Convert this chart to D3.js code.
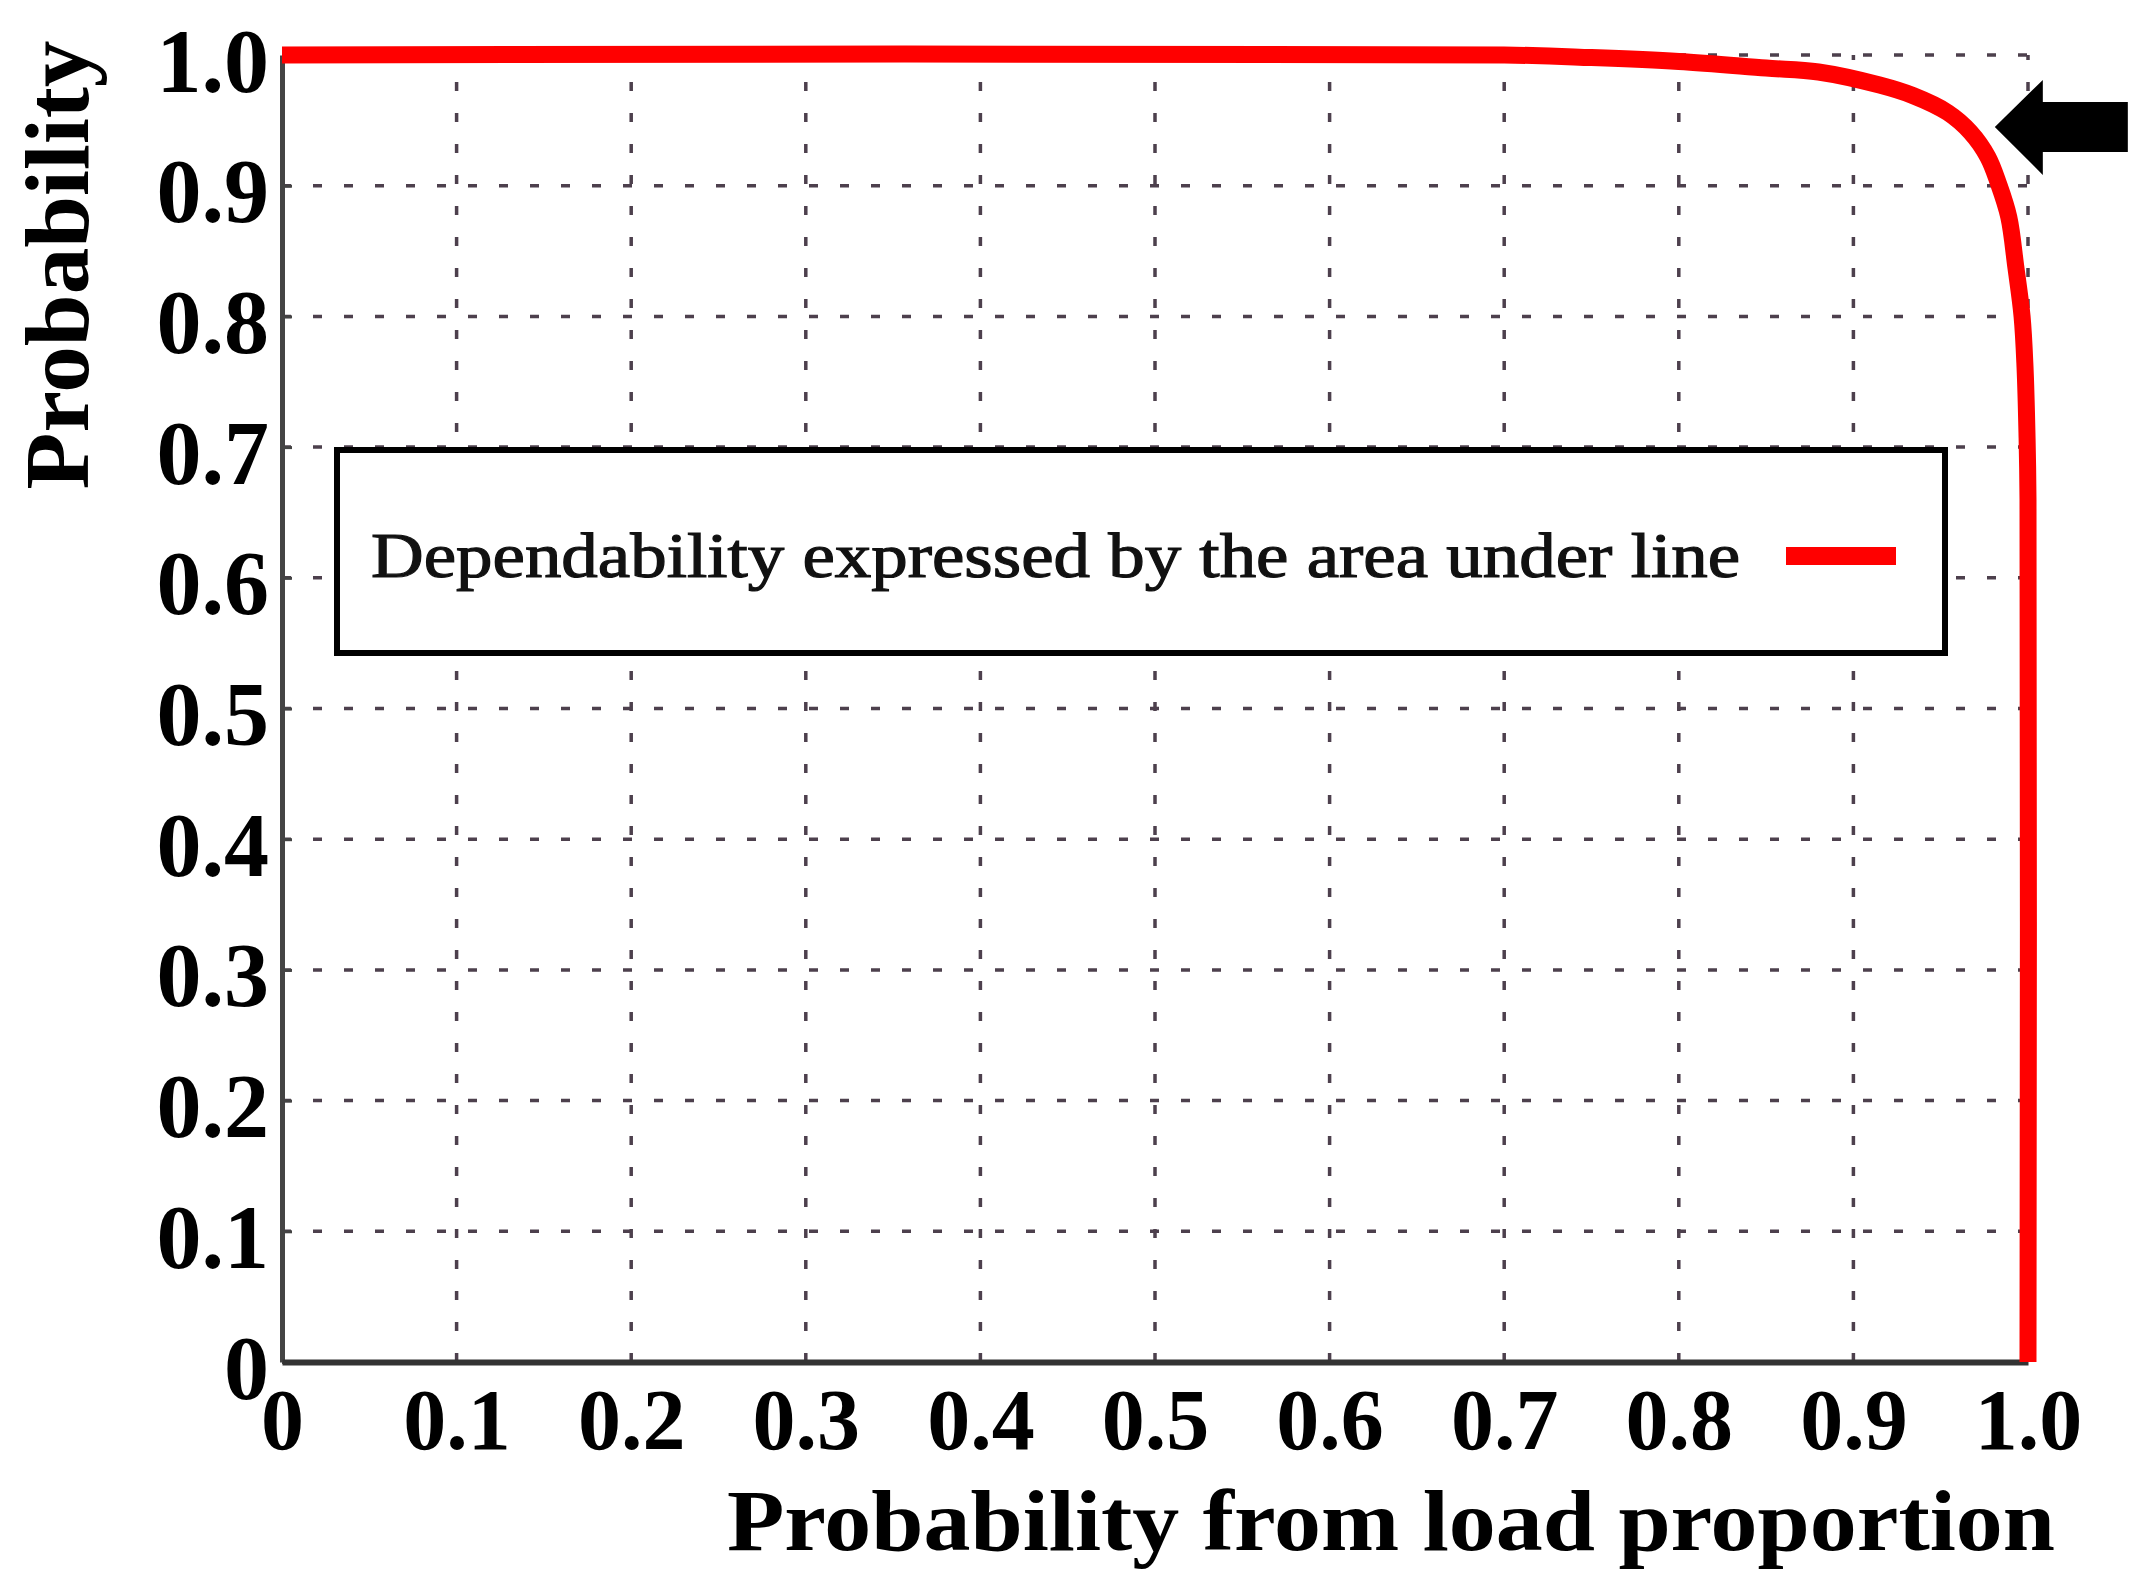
<!DOCTYPE html>
<html><head><meta charset="utf-8">
<script src="https://cdn.jsdelivr.net/npm/d3@7"></script>
<style>html,body{margin:0;padding:0;background:#fff;} svg{display:block}</style>
</head><body>
<svg id="chart" width="2152" height="1584"></svg>
<script>
// ---- data ----
const xValues = [0, 0.70, 0.75, 0.80, 0.85, 0.88, 0.915, 0.934, 0.954, 0.967, 0.977, 0.983, 0.989, 0.993, 0.9966, 0.9983, 0.9994, 1.0, 1.0];
const yValues = [1.0, 1.0, 0.998, 0.995, 0.99, 0.987, 0.977, 0.969, 0.956, 0.941, 0.922, 0.902, 0.876, 0.838, 0.80, 0.761, 0.711, 0.66, 0];
const xTicks = [0, 0.1, 0.2, 0.3, 0.4, 0.5, 0.6, 0.7, 0.8, 0.9, 1.0];
const xTickLabels = ["0", "0.1", "0.2", "0.3", "0.4", "0.5", "0.6", "0.7", "0.8", "0.9", "1.0"];
const yTicks = [0, 0.1, 0.2, 0.3, 0.4, 0.5, 0.6, 0.7, 0.8, 0.9, 1.0];
const yTickLabels = ["0", "0.1", "0.2", "0.3", "0.4", "0.5", "0.6", "0.7", "0.8", "0.9", "1.0"];
const seriesName = "Dependability expressed by the area under line";
const xTitle = "Probability from load proportion";
const yTitle = "Probability";
const arrowTip = [0.981, 0.945];

// ---- layout ----
const svg = d3.select("#chart");
const FONT = "'Liberation Serif','DejaVu Serif',serif";
const x = d3.scaleLinear().domain([0, 1]).range([282, 2028]);
const y = d3.scaleLinear().domain([0, 1]).range([1362, 55]);
const points = xValues.map((v, i) => [v, yValues[i]]);

// grid
const grid = svg.append("g").attr("stroke", "#2e1f2e").attr("stroke-width", 3.5)
  .attr("stroke-dasharray", "9,22").attr("opacity", 0.85);
grid.selectAll("line.v").data(xTicks.filter(d => d > 0)).join("line").attr("class", "v")
  .attr("x1", d => x(d)).attr("x2", d => x(d)).attr("y1", y(0)).attr("y2", y(1));
grid.selectAll("line.h").data(yTicks.filter(d => d > 0)).join("line").attr("class", "h")
  .attr("y1", d => y(d)).attr("y2", d => y(d)).attr("x1", x(0)).attr("x2", x(1) + 5);

// axes
const yAxis = d3.axisLeft(y).tickValues(yTicks).tickFormat((d, i) => yTickLabels[i])
  .tickSizeInner(-10).tickSizeOuter(0).tickPadding(13);
const gy = svg.append("g").attr("transform", `translate(${x(0)},0)`).call(yAxis);
gy.select(".domain").attr("stroke", "#444").attr("stroke-width", 5);
gy.selectAll(".tick line").attr("stroke", "#444").attr("stroke-width", 3);
gy.selectAll(".tick text").attr("font-family", FONT).attr("font-weight", "bold")
  .attr("font-size", 90).attr("fill", "#000").attr("dy", "0.40em");

const xAxis = d3.axisBottom(x).tickValues(xTicks).tickFormat((d, i) => xTickLabels[i])
  .tickSize(0).tickPadding(26);
const gx = svg.append("g").attr("transform", `translate(0,${y(0)})`).call(xAxis);
gx.select(".domain").attr("stroke", "#333").attr("stroke-width", 6);
gx.selectAll(".tick text").attr("font-family", FONT).attr("font-weight", "bold")
  .attr("font-size", 86).attr("fill", "#000");

// axis titles
svg.append("text").attr("x", 2055).attr("y", 1550).attr("text-anchor", "end")
  .attr("font-family", FONT).attr("font-weight", "bold").attr("font-size", 86)
  .attr("textLength", 1328).attr("lengthAdjust", "spacingAndGlyphs").text(xTitle);
svg.append("text").attr("transform", "translate(88,265) rotate(-90)").attr("text-anchor", "middle")
  .attr("font-family", FONT).attr("font-weight", "bold").attr("font-size", 92)
  .attr("textLength", 449).attr("lengthAdjust", "spacingAndGlyphs").text(yTitle);

// legend
const lg = svg.append("g");
lg.append("rect").attr("x", 337).attr("y", 450).attr("width", 1608).attr("height", 203)
  .attr("fill", "#fff").attr("stroke", "#000").attr("stroke-width", 6);
lg.append("text").attr("x", 371).attr("y", 577).attr("font-family", FONT).attr("font-size", 64)
  .attr("fill", "#111").attr("stroke", "#111").attr("stroke-width", 1.2)
  .attr("textLength", 1369).attr("lengthAdjust", "spacingAndGlyphs").text(seriesName);
lg.append("line").attr("x1", 1786).attr("x2", 1896).attr("y1", 556).attr("y2", 556)
  .attr("stroke", "#ff0000").attr("stroke-width", 18);

// series
const line = d3.line().x(d => x(d[0])).y(d => y(d[1])).curve(d3.curveCatmullRom.alpha(0.5));
svg.append("path").datum(points).attr("d", line).attr("fill", "none")
  .attr("stroke", "#ff0000").attr("stroke-width", 17).attr("stroke-linejoin", "round");

// arrow annotation
const tx = x(arrowTip[0]), ty = y(arrowTip[1]);
const arrow = d3.path();
arrow.moveTo(tx, ty);
arrow.lineTo(tx + 48, ty - 47);
arrow.lineTo(tx + 48, ty - 25);
arrow.lineTo(tx + 133, ty - 25);
arrow.lineTo(tx + 133, ty + 25);
arrow.lineTo(tx + 48, ty + 25);
arrow.lineTo(tx + 48, ty + 48);
arrow.closePath();
svg.append("path").attr("d", arrow.toString()).attr("fill", "#000");
</script>
</body></html>
